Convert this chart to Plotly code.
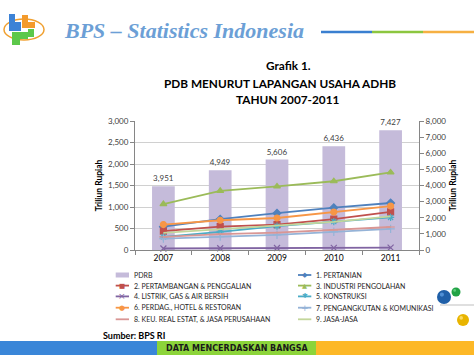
import plotly.graph_objects as go

# ---------------- data ----------------
years = ["2007", "2008", "2009", "2010", "2011"]
pdrb = [3951, 4949, 5606, 6436, 7427]
pertanian = [541.9, 716.7, 857.2, 985.4, 1093.5]
pertambangan = [440.6, 541.3, 592.1, 718.1, 886.2]
industri = [1068.8, 1376.4, 1477.5, 1599.1, 1803.5]
listrik = [34.7, 40.9, 47.2, 49.1, 55.7]
konstruksi = [305.2, 419.7, 555.2, 660.9, 756.5]
perdagangan = [592.3, 691.5, 744.5, 882.5, 1022.1]
pengangkutan = [264.3, 312.2, 353.7, 423.2, 491.3]
keuangan = [305.2, 368.1, 405.2, 466.6, 535.0]
jasa = [399.3, 481.8, 574.1, 654.7, 783.3]

series_names = ["1. PERTANIAN", "2. PERTAMBANGAN & PENGGALIAN", "3. INDUSTRI PENGOLAHAN",
                "4. LISTRIK, GAS & AIR BERSIH", "5. KONSTRUKSI", "6. PERDAG., HOTEL & RESTORAN",
                "7. PENGANGKUTAN & KOMUNIKASI", "8. KEU. REAL ESTAT, & JASA PERUSAHAAN", "9. JASA-JASA"]
series_vals = [pertanian, pertambangan, industri, listrik, konstruksi, perdagangan,
               pengangkutan, keuangan, jasa]

# ---------------- styles ----------------
W, H = 474, 355
L, R, T, B = 135, 55, 121, 105
PW, PH = W - L - R, H - T - B
BAR_COLOR = "#C5BBDA"
colors = ["#4F81BD", "#C0504D", "#9BBB59", "#8064A2", "#4BACC6", "#F79646",
          "#95B3D7", "#D99694", "#C3D69B"]
symbols = ["diamond", "square", "triangle-up", "x-thin-open", "asterisk-open", "circle",
           "cross-thin-open", "line-ew-open", None]
legend_glyphs = ["\u25C6", "\u25A0", "\u25B2", "\u00D7", "\u2731", "\u25CF", "+", "", ""]
glyph_sizes = [7, 6.5, 6.5, 9, 7, 7, 9, 7, 7]
FONT = "Lato"
TXT = "#404040"


def px(xp):
    return (xp - L) / PW


def py(yp):
    return (H - B - yp) / PH


fig = go.Figure()

# bars (base axis, right side)
fig.add_trace(go.Bar(
    x=years, y=pdrb, name="PDRB", marker=dict(color=BAR_COLOR, line=dict(width=0)),
    width=0.4, text=[f"{v:,}" for v in pdrb], textposition="outside",
    textfont=dict(size=8, color=TXT, family=FONT), cliponaxis=False,
    yaxis="y", xaxis="x", showlegend=False))

# lines (overlay axis, left side)
for name, vals, c, s in zip(series_names, series_vals, colors, symbols):
    mk = dict(size=6, color=c, line=dict(color=c, width=1.2)) if s else dict(size=0)
    if s:
        mk["symbol"] = s
    fig.add_trace(go.Scatter(
        x=years, y=vals, name=name, mode="lines+markers" if s else "lines",
        line=dict(color=c, width=1.8), marker=mk, yaxis="y2", xaxis="x",
        showlegend=False, cliponaxis=False))

# ---------------- manual legend ----------------
legend_names = ["PDRB"] + series_names
legend_colors = [BAR_COLOR] + colors
legend_marks = ["bar"] + legend_glyphs
legend_msize = [0] + glyph_sizes
col_x = [115.7, 298.0]
row_y = [275.0, 285.6, 296.4, 307.7, 319.3]
sample_w = 13.3
shapes = []
annotations = []
for i, (nm, c, g, gs) in enumerate(zip(legend_names, legend_colors, legend_marks, legend_msize)):
    cx = col_x[i % 2]
    ry = row_y[i // 2]
    if g == "bar":
        shapes.append(dict(type="rect", xref="paper", yref="paper", x0=px(cx), x1=px(cx + sample_w),
                           y0=py(ry + 2.5), y1=py(ry - 2.5), fillcolor=c, line=dict(width=0)))
    else:
        shapes.append(dict(type="line", xref="paper", yref="paper", x0=px(cx), x1=px(cx + sample_w),
                           y0=py(ry), y1=py(ry), line=dict(color=c, width=1.8)))
        if g:
            annotations.append(dict(text=g, x=px(cx + sample_w / 2), y=py(ry), xref="paper",
                                    yref="paper", xanchor="center", yanchor="middle",
                                    showarrow=False,
                                    font=dict(size=gs, color=c, family="DejaVu Sans")))
    annotations.append(dict(text=nm, x=px(cx + sample_w + 2.5), y=py(ry), xref="paper", yref="paper",
                            xanchor="left", yanchor="middle", showarrow=False,
                            font=dict(size=7, color="#262626", family=FONT)))

# ---------------- titles & decorations ----------------
title_lines = [("Grafik 1.", 288, 65.7), ("PDB MENURUT LAPANGAN USAHA ADHB", 279.5, 83.3),
               ("TAHUN 2007-2011", 288, 99.3)]
for t, x, y in title_lines:
    annotations.append(dict(text=t, x=px(x), y=py(y), xref="paper", yref="paper",
                            xanchor="center", yanchor="middle", showarrow=False,
                            font=dict(size=11.8, color="#000000", family=FONT, weight="bold")))

annotations.append(dict(text="BPS \u2013 Statistics Indonesia", x=px(62), y=py(30), xref="paper",
                        yref="paper", xanchor="left", yanchor="middle", showarrow=False,
                        font=dict(size=22, color="#6C9FD6", family="Liberation Serif",
                                  weight="bold", style="italic")))
annotations.append(dict(text="Sumber: BPS RI", x=px(101), y=py(335), xref="paper", yref="paper",
                        xanchor="left", yanchor="middle", showarrow=False,
                        font=dict(size=9, color="#000000", family=FONT, weight="bold")))

# footer bands
for x0, x1, c in [(0, 157, "#3A86D8"), (157, 316, "#8CD43A"), (316, 474, "#FDB827")]:
    shapes.append(dict(type="rect", xref="paper", yref="paper", x0=px(x0), x1=px(x1),
                       y0=py(355), y1=py(341), fillcolor=c, line=dict(width=0)))
annotations.append(dict(text="DATA MENCERDASKAN BANGSA", x=px(236.5), y=py(348.5), xref="paper",
                        yref="paper", xanchor="center", yanchor="middle", showarrow=False,
                        font=dict(size=8, color="#1a1a1a", family="DejaVu Sans", weight="bold")))

# header rule
for x0, x1, c in [(321, 372, "#3A7FD0"), (372, 423, "#8CC63F"), (423, 474, "#F6B042")]:
    shapes.append(dict(type="line", xref="paper", yref="paper", x0=px(x0), x1=px(x1),
                       y0=py(32), y1=py(32), line=dict(color=c, width=2.5)))

# decorative spheres
shapes.append(dict(type="line", xref="paper", yref="paper", x0=px(440), x1=px(474),
                   y0=py(305), y1=py(305), line=dict(color="#BFBFBF", width=1)))
for cx, cy, r, c, hl in [(444, 297, 7, "#1F5FA8", "#5B9BE0"), (456, 292, 4.5, "#21A346", "#6DD68A"),
                         (463, 320, 6, "#E8B400", "#FFE27A")]:
    shapes.append(dict(type="circle", xref="paper", yref="paper", x0=px(cx - r), x1=px(cx + r),
                       y0=py(cy + r), y1=py(cy - r), fillcolor=c, line=dict(width=0)))
    shapes.append(dict(type="circle", xref="paper", yref="paper", x0=px(cx - r * 0.6), x1=px(cx),
                       y0=py(cy - r * 0.05), y1=py(cy - r * 0.65), fillcolor=hl, line=dict(width=0),
                       opacity=0.8))

# logo (simplified)
shapes.append(dict(type="circle", xref="paper", yref="paper", x0=px(4), x1=px(44), y0=py(40),
                   y1=py(19), line=dict(color="#F0A030", width=1.5)))
for x0, y0, x1, y1, c in [(9, 14, 15, 31, "#3C82D6"), (15, 22, 21, 31, "#3C82D6"),
                          (22, 15, 28, 28, "#F39A2B"), (28, 22, 35, 28, "#F39A2B"),
                          (12, 32, 20, 45, "#5CC84A"), (20, 32, 28, 39, "#5CC84A"),
                          (28, 29, 34, 37, "#5CC84A")]:
    shapes.append(dict(type="rect", xref="paper", yref="paper", x0=px(x0), x1=px(x1), y0=py(y1),
                       y1=py(y0), fillcolor=c, line=dict(width=0)))

# ---------------- layout ----------------
axis_line = "#868686"
fig.update_layout(
    width=W, height=H, margin=dict(l=L, r=R, t=T, b=B, pad=0),
    paper_bgcolor="white", plot_bgcolor="rgba(0,0,0,0)",
    font=dict(family=FONT, color=TXT), showlegend=False, bargap=0.6,
    xaxis=dict(type="category", tickson="boundaries", ticks="outside", ticklen=4,
               tickcolor=axis_line, showline=True, linecolor=axis_line, showgrid=False,
               tickfont=dict(size=8.5, color="#000000", family=FONT)),
    yaxis=dict(side="right", range=[0, 8000], dtick=1000, tickformat=",d", showgrid=False,
               ticks="outside", ticklen=4, tickcolor=axis_line, showline=True, linecolor=axis_line,
               tickfont=dict(size=8, color=TXT, family=FONT), zeroline=False,
               title=dict(text="Triliun Rupiah", standoff=4,
                          font=dict(size=8.5, color="#000000", family=FONT, weight="bold"))),
    yaxis2=dict(overlaying="y", side="left", range=[0, 3000], dtick=500, tickformat=",d",
                showgrid=True, gridcolor="#D0D0D0", gridwidth=1, zeroline=False,
                ticks="outside", ticklen=4, tickcolor=axis_line, showline=True, linecolor=axis_line,
                tickfont=dict(size=8, color=TXT, family=FONT),
                title=dict(text="Triliun Rupiah", standoff=4,
                           font=dict(size=8.5, color="#000000", family=FONT, weight="bold"))),
    shapes=shapes, annotations=annotations,
)

fig.write_html("out.html")
